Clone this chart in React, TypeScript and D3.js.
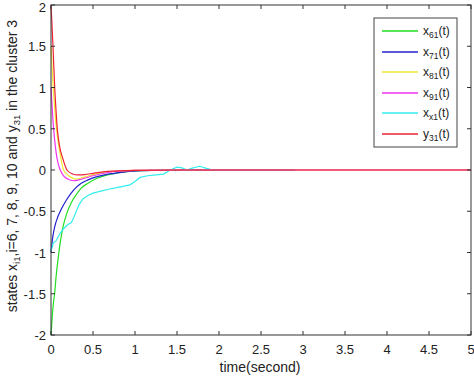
import React from "react";
import * as d3 from "d3";

type P = [number, number];

const xTicks = [0, 0.5, 1, 1.5, 2, 2.5, 3, 3.5, 4, 4.5, 5];
const yTicks = [-2, -1.5, -1, -0.5, 0, 0.5, 1, 1.5, 2];

const x61: P[] = [[0,-2],[0.01,-1.85],[0.025,-1.65],[0.044,-1.49],[0.06,-1.3],[0.083,-1.09],[0.11,-0.88],[0.143,-0.69],[0.19,-0.52],[0.24,-0.4],[0.3,-0.3],[0.36,-0.22],[0.44,-0.16],[0.55,-0.1],[0.65,-0.065],[0.76,-0.04],[0.9,-0.02],[1.1,-0.008],[1.5,0],[2.9,0]];
const x71: P[] = [[0,-1],[0.02,-0.82],[0.044,-0.69],[0.08,-0.57],[0.12,-0.48],[0.18,-0.37],[0.24,-0.28],[0.3,-0.21],[0.36,-0.16],[0.44,-0.12],[0.55,-0.08],[0.65,-0.055],[0.76,-0.04],[0.9,-0.02],[1.1,-0.008],[1.5,0],[2.9,0]];
const x81: P[] = [[0,1.5],[0.02,1.1],[0.04,0.8],[0.06,0.55],[0.08,0.38],[0.1,0.25],[0.15,0],[0.2,-0.06],[0.25,-0.095],[0.3,-0.11],[0.35,-0.1],[0.45,-0.07],[0.6,-0.035],[0.8,-0.012],[1.0,-0.004],[1.5,0],[5,0]];
const x91: P[] = [[0,1],[0.02,0.65],[0.04,0.4],[0.06,0.22],[0.08,0.1],[0.11,0],[0.15,-0.07],[0.2,-0.11],[0.27,-0.13],[0.33,-0.12],[0.4,-0.1],[0.5,-0.07],[0.6,-0.045],[0.8,-0.015],[1.0,-0.005],[1.5,0],[5,0]];
const xx1: P[] = [[0,-0.98],[0.03,-0.88],[0.06,-0.86],[0.09,-0.8],[0.12,-0.75],[0.16,-0.7],[0.2,-0.66],[0.24,-0.64],[0.27,-0.58],[0.3,-0.5],[0.34,-0.41],[0.38,-0.35],[0.44,-0.31],[0.5,-0.28],[0.58,-0.26],[0.7,-0.23],[0.8,-0.21],[0.94,-0.18],[1.0,-0.14],[1.06,-0.09],[1.15,-0.07],[1.25,-0.06],[1.34,-0.05],[1.42,0],[1.5,0.035],[1.56,0.025],[1.62,0],[1.67,0.02],[1.77,0.045],[1.85,0.02],[1.93,0],[2.9,0]];
const y31: P[] = [[0,2],[0.01,1.8],[0.024,1.49],[0.044,1.0],[0.06,0.72],[0.075,0.5],[0.1,0.3],[0.14,0.14],[0.19,0],[0.25,-0.045],[0.32,-0.06],[0.4,-0.055],[0.5,-0.04],[0.6,-0.025],[0.8,-0.01],[1.0,-0.004],[1.5,0],[5,0]];

const series = [
  { name: "x", sub: "61", data: x61, color: "#22dd22", curve: true },
  { name: "x", sub: "71", data: x71, color: "#2222cc", curve: true },
  { name: "x", sub: "81", data: x81, color: "#f0e830", curve: true },
  { name: "x", sub: "91", data: x91, color: "#ee33ee", curve: true },
  { name: "x", sub: "x1", data: xx1, color: "#33eeee", curve: false },
  { name: "y", sub: "31", data: y31, color: "#ee2233", curve: true },
];

const L = 51, R = 471, T = 5, B = 335;
const FONT = "'Liberation Sans', Arial, Helvetica, sans-serif";

export default function App() {
  const xs = d3.scaleLinear().domain([0, 5]).range([L, R]);
  const ys = d3.scaleLinear().domain([-2, 2]).range([B, T]);
  const drawOrder = [0, 1, 4, 2, 3, 5];
  return (
    <svg width={474} height={377} style={{ position: "absolute", left: 0, top: 0, background: "#fff" }} fontFamily={FONT}>
      <rect x={0} y={0} width={474} height={377} fill="#fff" />
      {drawOrder.map((i) => {
        const s = series[i];
        const line = d3.line<P>().x((d) => xs(d[0])).y((d) => ys(d[1])).curve(s.curve ? d3.curveMonotoneX : d3.curveLinear);
        return <path key={i} d={line(s.data) || ""} fill="none" stroke={s.color} strokeWidth={1.2} />;
      })}
      <rect x={L} y={T} width={R - L} height={B - T} fill="none" stroke="#333" strokeWidth={1} />
      {xTicks.map((t) => (
        <g key={"x" + t}>
          <line x1={xs(t)} x2={xs(t)} y1={B} y2={B - 4} stroke="#333" />
          <line x1={xs(t)} x2={xs(t)} y1={T} y2={T + 4} stroke="#333" />
          <text x={xs(t)} y={354} fontSize={13} textAnchor="middle" fill="#222">{t}</text>
        </g>
      ))}
      {yTicks.map((t) => (
        <g key={"y" + t}>
          <line x1={L} x2={L + 4} y1={ys(t)} y2={ys(t)} stroke="#333" />
          <line x1={R} x2={R - 4} y1={ys(t)} y2={ys(t)} stroke="#333" />
          <text x={46} y={Math.max(ys(t) + 5, 12)} fontSize={13} textAnchor="end" fill="#222">{t}</text>
        </g>
      ))}
      <text x={260} y={372} fontSize={14} textAnchor="middle" fill="#222">time(second)</text>
      <text transform="translate(17,166) rotate(-90)" fontSize={14} textAnchor="middle" fill="#222">
        states x<tspan fontSize={9.5} dy={3}>i1</tspan><tspan dy={-3}>,i=6, 7, 8, 9, 10 and y</tspan><tspan fontSize={9.5} dy={3}>31</tspan><tspan dy={-3}> in the cluster 3</tspan>
      </text>
      <rect x={374} y={18} width={83} height={129} fill="#fff" stroke="#444" strokeWidth={1} />
      {series.map((s, i) => {
        const yy = Math.round(31 + i * 20.5);
        return (
          <g key={"l" + i}>
            <line x1={382} x2={418} y1={yy} y2={yy} stroke={s.color} strokeWidth={1.6} />
            <text x={423} y={yy + 4} fontSize={12} fill="#222">
              {s.name}<tspan fontSize={8.5} dy={3}>{s.sub}</tspan><tspan dy={-3}>(t)</tspan>
            </text>
          </g>
        );
      })}
    </svg>
  );
}
